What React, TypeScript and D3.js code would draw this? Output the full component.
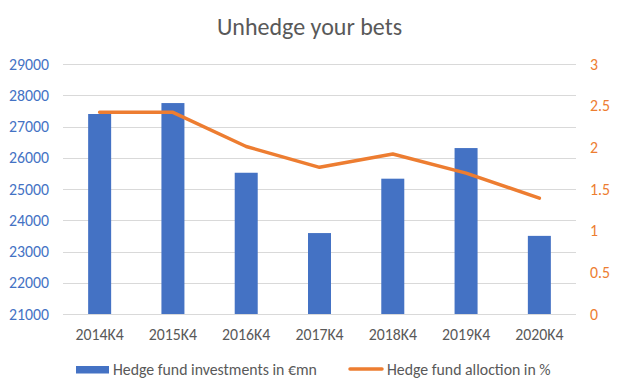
import { useEffect, useRef } from 'react';
import * as d3 from 'd3';

const categories = ['2014K4', '2015K4', '2016K4', '2017K4', '2018K4', '2019K4', '2020K4'];
const investments = [27400, 27750, 25520, 23590, 25330, 26310, 23500];
const allocation = [2.42, 2.42, 2.01, 1.76, 1.92, 1.69, 1.39];
const leftTicks = [21000, 22000, 23000, 24000, 25000, 26000, 27000, 28000, 29000];
const rightTicks = [0, 0.5, 1, 1.5, 2, 2.5, 3];

const BLUE = '#4472C4';
const ORANGE = '#ED7D31';
const GREY = '#595959';
const FONT = 'Calibri, Carlito, Lato, sans-serif';
const FS = '15.8px';

export default function App() {
  const svgRef = useRef<SVGSVGElement>(null);
  const width = 619;
  const height = 391;

  useEffect(() => {
    if (!svgRef.current) return;
    const svg = d3.select(svgRef.current);
    svg.selectAll('*').remove();

    const left = 63, right = 576, top = 64, bottom = 314;

    const x = d3.scaleBand<string>().domain(categories).range([left, right]);
    const yL = d3.scaleLinear().domain([21000, 29000]).range([bottom, top]);
    const yR = d3.scaleLinear().domain([0, 3]).range([bottom, top]);

    svg.append('rect').attr('width', width).attr('height', height).attr('fill', '#fff');

    // title
    svg.append('text')
      .attr('x', width / 2)
      .attr('y', 35)
      .attr('text-anchor', 'middle')
      .style('font-family', FONT)
      .style('font-size', '24px')
      .style('fill', GREY)
      .text('Unhedge your bets');

    // grid
    svg.selectAll('.grid')
      .data(leftTicks)
      .join('line')
      .attr('x1', left)
      .attr('x2', right)
      .attr('y1', (d: number) => Math.round(yL(d)) + 0.5)
      .attr('y2', (d: number) => Math.round(yL(d)) + 0.5)
      .attr('stroke', '#d9d9d9')
      .attr('stroke-width', 1);

    // left ticks
    svg.selectAll('.lt')
      .data(leftTicks)
      .join('text')
      .attr('x', 49)
      .attr('y', (d: number) => yL(d))
      .attr('dy', '0.35em')
      .attr('text-anchor', 'end')
      .style('font-family', FONT)
      .style('font-size', FS)
      .style('fill', BLUE)
      .text((d: number) => String(d));

    // right ticks
    svg.selectAll('.rt')
      .data(rightTicks)
      .join('text')
      .attr('x', 590)
      .attr('y', (d: number) => yR(d))
      .attr('dy', '0.35em')
      .style('font-family', FONT)
      .style('font-size', FS)
      .style('fill', ORANGE)
      .text((d: number) => String(d));

    // bars
    const bw = 23;
    svg.selectAll('.bar')
      .data(investments)
      .join('rect')
      .attr('x', (_d: number, i: number) => (x(categories[i]) || 0) + x.bandwidth() / 2 - bw / 2)
      .attr('y', (d: number) => yL(d))
      .attr('width', bw)
      .attr('height', (d: number) => bottom - yL(d))
      .attr('fill', BLUE);

    // line
    const line = d3.line<number>()
      .x((_d: number, i: number) => (x(categories[i]) || 0) + x.bandwidth() / 2)
      .y((d: number) => yR(d));
    svg.append('path')
      .datum(allocation)
      .attr('d', line)
      .attr('fill', 'none')
      .attr('stroke', ORANGE)
      .attr('stroke-width', 3.5)
      .attr('stroke-linecap', 'round')
      .attr('stroke-linejoin', 'round');

    // x labels
    svg.selectAll('.xl')
      .data(categories)
      .join('text')
      .attr('x', (d: string) => (x(d) || 0) + x.bandwidth() / 2)
      .attr('y', 334)
      .attr('dy', '0.35em')
      .attr('text-anchor', 'middle')
      .style('font-family', FONT)
      .style('font-size', FS)
      .style('fill', GREY)
      .text((d: string) => d);

    // legend
    const lg = svg.append('g').style('font-family', FONT).style('font-size', FS).style('fill', GREY);
    lg.append('rect').attr('x', 76).attr('y', 366).attr('width', 33).attr('height', 7.5).attr('fill', BLUE);
    lg.append('text').attr('x', 113).attr('y', 369).attr('dy', '0.35em').text('Hedge fund investments in €mn');
    lg.append('line').attr('x1', 350).attr('x2', 382).attr('y1', 369).attr('y2', 369)
      .attr('stroke', ORANGE).attr('stroke-width', 3.5).attr('stroke-linecap', 'round');
    lg.append('text').attr('x', 387).attr('y', 369).attr('dy', '0.35em').text('Hedge fund alloction in %');
  }, []);

  return (
    <svg ref={svgRef} width={width} height={height}
      style={{ position: 'absolute', left: 0, top: 0, display: 'block' }} />
  );
}
